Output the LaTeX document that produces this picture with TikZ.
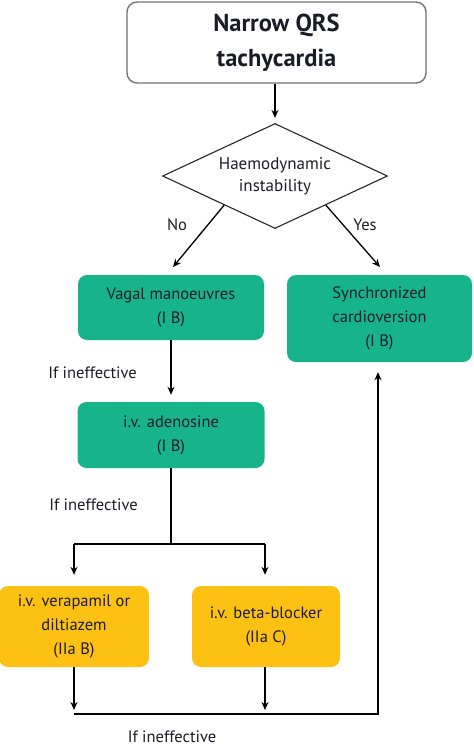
\documentclass[tikz,border=0pt]{standalone}
\usepackage{fontspec}
\setmainfont{PT Sans}
\usetikzlibrary{shapes.geometric,arrows.meta,calc}
\definecolor{boxgreen}{HTML}{17B48C}
\definecolor{boxyellow}{HTML}{FDC114}
\definecolor{txt}{HTML}{1C1C28}
\begin{document}
\begin{tikzpicture}[x=1pt,y=-1pt,
  every node/.style={text=txt},
  txtfont/.style={font=\fontsize{16.5}{24}\selectfont},
  greenbox/.style={txtfont,fill=boxgreen,rounded corners=9pt,align=center,inner sep=0pt},
  yellowbox/.style={txtfont,fill=boxyellow,rounded corners=9pt,align=center,inner sep=0pt},
  conn/.style={line width=1.3pt,draw=black},
  arr/.style={conn,-{Stealth[length=8pt,width=7pt]}},
  lbl/.style={txtfont,inner sep=0pt}]
\useasboundingbox (0,0) rectangle (474,748);
% nodes
\node[draw=black!55,line width=1.4pt,fill=white,rounded corners=10pt,
      minimum width=299pt,minimum height=81pt,align=center,
      font=\bfseries\fontsize{24.5}{35}\selectfont] (top) at (276.5,42.5) {Narrow QRS\\tachycardia};
\node[diamond,draw=black!85,line width=1.1pt,inner sep=0pt,aspect=2.14,
      minimum width=225pt,minimum height=105pt,align=center,
      font=\fontsize{17}{22}\selectfont] (dec) at (275,176) {Haemodynamic\\instability};
\node[greenbox,minimum width=186pt,minimum height=65pt] (vagal) at (171,307.5) {Vagal manoeuvres\\(I B)};
\node[greenbox,minimum width=185pt,minimum height=87pt] (sync) at (379.5,318.5) {Synchronized\\cardioversion\\(I B)};
\node[greenbox,minimum width=187pt,minimum height=66pt] (aden) at (171,435) {i.v. adenosine\\(I B)};
\node[yellowbox,minimum width=150pt,minimum height=81pt] (vera) at (74,626.5) {i.v. verapamil or\\diltiazem\\(IIa B)};
\node[yellowbox,minimum width=148pt,minimum height=81pt] (beta) at (266,626.5) {i.v. beta-blocker\\(IIa C)};
% labels
\node[lbl] (no) at (177,225) {No};
\node[lbl] (yes) at (365,225) {Yes};
\node[lbl] (ie1) at (92.5,373) {If ineffective};
\node[lbl] (ie2) at (93.5,505) {If ineffective};
\node[lbl] (ie3) at (172,737) {If ineffective};
% coordinates
\coordinate (noend) at (173,267);
\coordinate (yesend) at (380,267);
\coordinate (split) at (171,544);
\coordinate (jl) at (74,544);
\coordinate (jr) at (265,544);
\coordinate (vend) at (74,710);
\coordinate (bend) at (265,710);
\coordinate (bl) at (74,714);
\coordinate (cr) at (378,714);
% connectors
\draw[arr,shorten >=5pt] (top.south -| dec.north) -- (dec.north);
\draw[arr] ($(dec.west)!0.55!(dec.south)$) -- (noend);
\draw[arr] ($(dec.east)!0.55!(dec.south)$) -- (yesend);
\draw[arr,shorten >=7pt] (vagal.south) -- (aden.north);
\draw[conn] (aden.south) -- (split);
\draw[conn] (jl) -- (jr);
\draw[arr,shorten >=11pt] (jl) -- (vera.north -| jl);
\draw[arr,shorten >=11pt] (jr) -- (beta.north -| jr);
\draw[arr] (vera.south -| vend) -- (vend);
\draw[arr] (beta.south -| bend) -- (bend);
\draw[arr,shorten >=10pt] (bl) -- (cr) -- (cr |- sync.south);
\end{tikzpicture}
\end{document}
